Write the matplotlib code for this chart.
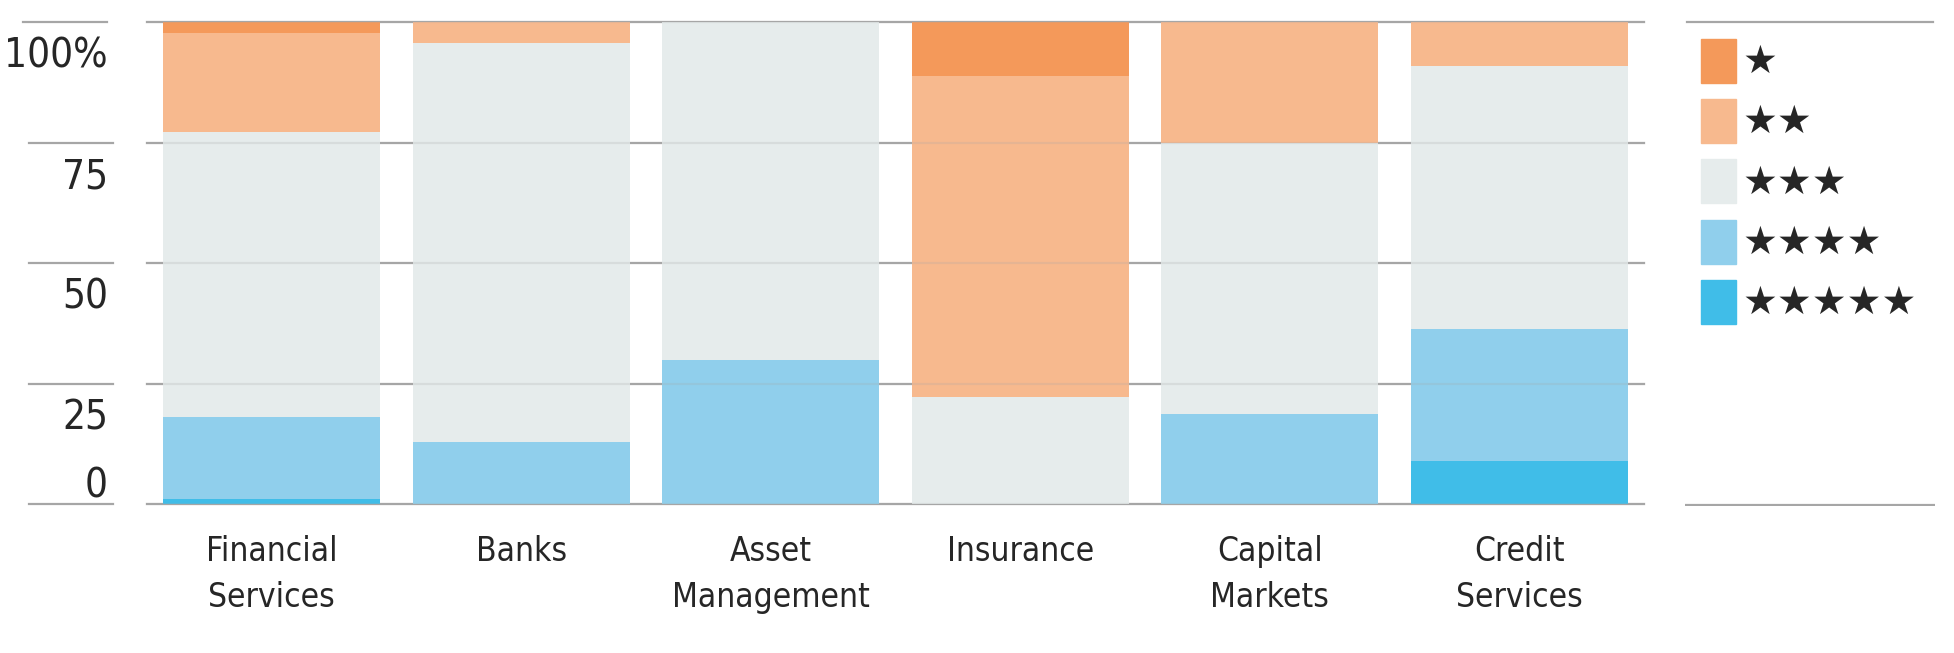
import numpy as np
import matplotlib.pyplot as plt
from matplotlib import transforms, font_manager
from matplotlib.patches import Rectangle

categories = ["Financial\nServices", "Banks", "Asset\nManagement",
              "Insurance", "Capital\nMarkets", "Credit\nServices"]
rating_labels = ["★", "★★", "★★★", "★★★★", "★★★★★"]
rating_colors = ["#F4995A", "#F7B98E", "#E6ECEC", "#90CFEC", "#40BDE8"]

# share of companies per star rating (%), bottom of the stack is 5 stars
one_star = [2.2, 0.0, 0.0, 11.2, 0.0, 0.0]
two_star = [20.6, 4.4, 0.0, 66.6, 25.2, 9.1]
three_star = [59.1, 82.8, 70.1, 22.2, 56.2, 54.6]
four_star = [17.1, 12.8, 29.9, 0.0, 18.6, 27.4]
five_star = [1.0, 0.0, 0.0, 0.0, 0.0, 8.9]

y_ticks = [0, 25, 50, 75, 100]
y_tick_labels = ["0", "25", "50", "75", "100%"]

TEXT = "#262626"
GRID = "#A6A6A6"

# narrowest face we can get
cond = font_manager.FontProperties(family="DejaVu Sans", stretch="condensed")
cond_file = font_manager.findfont(cond, fallback_to_default=True)
if "Condensed" in cond_file:
    FONT = dict(family=["DejaVu Sans"], fontstretch="condensed")
    CAT_SIZE, Y_SIZE = 24, 29
else:
    FONT = dict(family=["DejaVu Sans"])
    CAT_SIZE, Y_SIZE = 22, 26

fig = plt.figure(figsize=(19.54, 6.53), dpi=100)
W, H = 1954, 653
ax = fig.add_axes([147 / W, 1 - 504 / H, 1497 / W, 482 / H])

x = np.arange(len(categories))
stack = [five_star, four_star, three_star, two_star, one_star]
colors = rating_colors[::-1]
bottom = np.zeros(len(categories))
for vals, col in zip(stack, colors):
    ax.bar(x, vals, width=0.87, bottom=bottom, color=col, zorder=2)
    bottom += np.asarray(vals)

ax.set_xlim(-0.5, 5.5)
ax.set_ylim(0, 100)
for s in ax.spines.values():
    s.set_visible(False)
ax.set_yticks([])
ax.set_xticks(x)
ax.set_xticklabels(categories, fontsize=CAT_SIZE, color=TEXT,
                   linespacing=1.5, **FONT)
ax.tick_params(axis="x", length=0, pad=22)

# gridlines: solid under the bars, faint over them
for v in y_ticks:
    ax.axhline(v, color=GRID, lw=1.6, zorder=1, clip_on=False)
    ax.axhline(v, color=GRID, lw=1.6, alpha=0.22, zorder=3, clip_on=False)

# y labels sit in the left margin with their own short rules
trans = transforms.blended_transform_factory(fig.transFigure, ax.transData)
for v, lab in zip(y_ticks, y_tick_labels):
    x0, x1 = (23, 107) if v == 100 else (29, 113)
    ax.plot([x0 / W, x1 / W], [v, v], color=GRID, lw=1.6,
            transform=trans, clip_on=False)
    ty = v + 3.7 if v == 0 else v - 7.2
    ax.text(108 / W, ty, lab, transform=trans, ha="right", va="center",
            fontsize=Y_SIZE, color=TEXT, **FONT)

# legend panel
lax = fig.add_axes([1685 / W, 1 - 506 / H, 250 / W, 486 / H])
lax.set_xlim(1685, 1935)
lax.set_ylim(506, 20)
lax.axis("off")
lax.plot([1687, 1933], [22, 22], color=GRID, lw=1.6)
lax.plot([1685, 1935], [505, 505], color=GRID, lw=1.6)
for i, (lab, col) in enumerate(zip(rating_labels, rating_colors)):
    top = 39 + i * 60.2
    lax.add_patch(Rectangle((1701, top), 35, 44, color=col))
    lax.text(1742, top + 23, lab, ha="left", va="center",
             family=["DejaVu Sans"], fontsize=28, color=TEXT)

fig.savefig("out.png", dpi=100)
